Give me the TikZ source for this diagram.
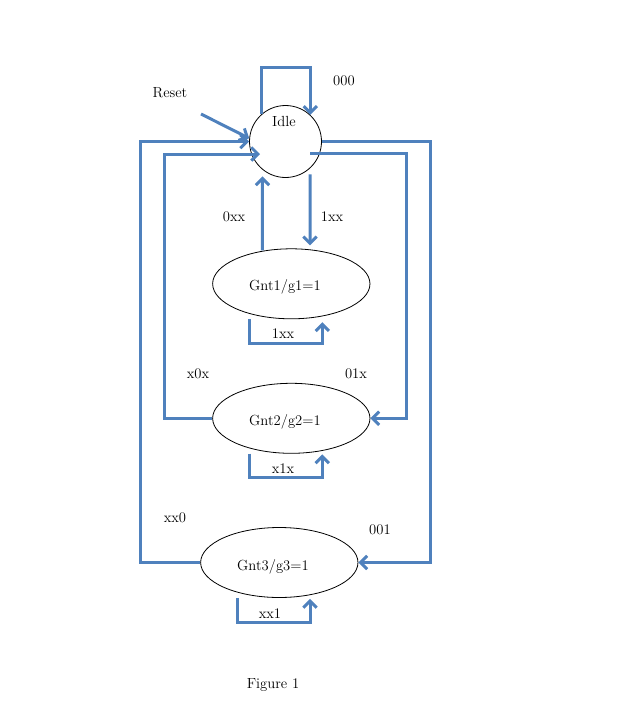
\documentclass[tikz,border=0pt]{standalone}
\usepackage{tikz}
\usetikzlibrary{calc,shapes.geometric,arrows.meta}
\definecolor{flowblue}{RGB}{79,129,189}

\begin{document}
\begin{tikzpicture}[x=0.75pt,y=-0.75pt,line width=0.6pt,
  flow/.style={draw=flowblue,line width=2.25pt,-{Straight Barb[length=5pt,width=10pt]}},
  idlestate/.style={circle,draw,inner sep=0pt,minimum size=54pt},
  gntstate/.style={ellipse,draw,inner sep=0pt,minimum width=118pt,minimum height=52.5pt},
  lbl/.style={font=\fontsize{11}{13}\selectfont,inner sep=0pt}]
  \useasboundingbox (0,0) rectangle (637,718);
  \node[idlestate] (idle) at (285.5,141.5) {};
  \node[gntstate] (gnt1) at (291.3,283.8) {};
  \node[gntstate] (gnt2) at (291.3,418.3) {};
  \node[gntstate] (gnt3) at (279.3,562.5) {};
  \node[lbl] (idletxt) at (284,121) {Idle};
  \node[lbl] (gnt1txt) at (285,287) {Gnt1/g1=1};
  \node[lbl] (gnt2txt) at (285,421.5) {Gnt2/g2=1};
  \node[lbl] (gnt3txt) at (273,566.5) {Gnt3/g3=1};
  \node[lbl] (resettxt) at (170,93) {Reset};
  \coordinate (reset) at (201,114);
  \draw[flow] (reset) -- (idle.175);
  \draw[flow] (idle.131) -- ++(0,-47) -| (idle.47);
  \node[lbl] (c000) at (344,81) {000};
  \draw[flow] (gnt3.west) -- ++(-60,0) |- (idle.west);
  \draw[flow] (gnt2.west) -- ++(-47.6,0) |- ($(idle.center)+(-25.5,12.5)$);
  \draw[flow] (idle.east) -- ++(108.5,0) |- (gnt3.east);
  \draw[flow] ($(idle.center)+(24.5,12)$) -- ++(96,0) |- (gnt2.east);
  \draw[flow] ($(gnt1.north)+(-29,2)$) -- ($(idle.south)+(-23,-1.5)$);
  \draw[flow] ($(idle.south)+(24.5,-3.5)$) -- ($(gnt1.north)+(18.7,-3)$);
  \node[lbl] (c0xx) at (234,217) {0xx};
  \node[lbl] (c1xx) at (332,217) {1xx};
  \draw[flow] ($(gnt1.south)+(-42,0)$) -- ++(0,24.5) -| ($(gnt1.south)+(31,3)$);
  \node[lbl] (c1xxb) at (283,334) {1xx};
  \node[lbl] (cx0x) at (198,374) {x0x};
  \node[lbl] (c01x) at (356,374) {01x};
  \draw[flow] ($(gnt2.south)+(-42,0)$) -- ++(0,24) -| ($(gnt2.south)+(31,0.7)$);
  \node[lbl] (cx1x) at (283,469) {x1x};
  \node[lbl] (cxx0) at (175,518) {xx0};
  \node[lbl] (c001) at (380,530) {001};
  \draw[flow] ($(gnt3.south)+(-42,0)$) -- ++(0,25) -| ($(gnt3.south)+(30.7,1)$);
  \node[lbl] (cxx1) at (270,614) {xx1};
  \node[lbl] (fig) at (273,685) {Figure 1};
\end{tikzpicture}
\end{document}
